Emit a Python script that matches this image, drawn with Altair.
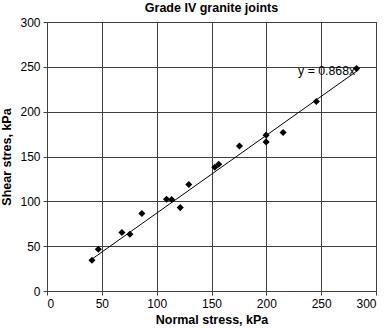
import altair as alt
import pandas as pd

normal_stress = [41, 46.8, 68.3, 75.6, 86.5, 109, 113.6, 121.5, 129.3, 153, 156.6, 175.5, 199.8, 199.8, 215.3, 245.6, 282.3]
shear_stress = [34.3, 46.5, 65.2, 63.3, 86.4, 102.3, 102, 93, 118.7, 138, 141.4, 161.8, 173.8, 166.3, 176.8, 211.4, 248.2]
fit_x = [40, 284]
slope = 0.868
label_text = ["y = 0.868x"]
label_x = [281]
label_y = [245]

pts = pd.DataFrame({"x": normal_stress, "y": shear_stress})
line = pd.DataFrame({"x": fit_x, "y": [slope * v for v in fit_x]})
lab = pd.DataFrame({"x": label_x, "y": label_y, "t": label_text})

xs = alt.Scale(domain=[0, 300], nice=False, zero=False)
ys = alt.Scale(domain=[0, 300], nice=False, zero=False)

xax = alt.Axis(title="Normal stress, kPa", values=[0, 50, 100, 150, 200, 250, 300])
yax = alt.Axis(title="Shear stres, kPa", values=[0, 50, 100, 150, 200, 250, 300])

base_pts = alt.Chart(pts).mark_point(shape="diamond", filled=True, color="black", size=50, opacity=1).encode(
    x=alt.X("x:Q", scale=xs, axis=xax),
    y=alt.Y("y:Q", scale=ys, axis=yax),
)
fit = alt.Chart(line).mark_line(color="black", strokeWidth=1).encode(
    x=alt.X("x:Q", scale=xs),
    y=alt.Y("y:Q", scale=ys),
)
txt = alt.Chart(lab).mark_text(align="right", baseline="middle", fontSize=12.3, font="Liberation Sans", color="black").encode(
    x=alt.X("x:Q", scale=xs),
    y=alt.Y("y:Q", scale=ys),
    text="t:N",
)

chart = alt.layer(fit, base_pts, txt).properties(
    width=329,
    height=269,
    background="white",
    title=alt.TitleParams("Grade IV granite joints", font="Liberation Sans", fontSize=12.5, fontWeight="bold", anchor="middle", offset=2, color="black"),
    autosize=alt.AutoSizeParams(type="none"),
    padding={"left": 47, "top": 22, "right": 10, "bottom": 37},
).configure_view(
    stroke="#404040", strokeWidth=1
).configure_axis(
    grid=True, gridColor="#404040", gridWidth=1, gridOpacity=1,
    domainColor="#404040", tickColor="#404040", tickSize=4,
    labelFont="Liberation Sans", labelFontSize=12, labelColor="black",
    titleFont="Liberation Sans", titleFontSize=12.5, titleFontWeight="bold", titleColor="black",
    labelPadding=3,
).configure_axisY(titlePadding=6).configure_axisX(titlePadding=4)

chart.save("out.html", embed_options={"renderer": "svg", "actions": False})
